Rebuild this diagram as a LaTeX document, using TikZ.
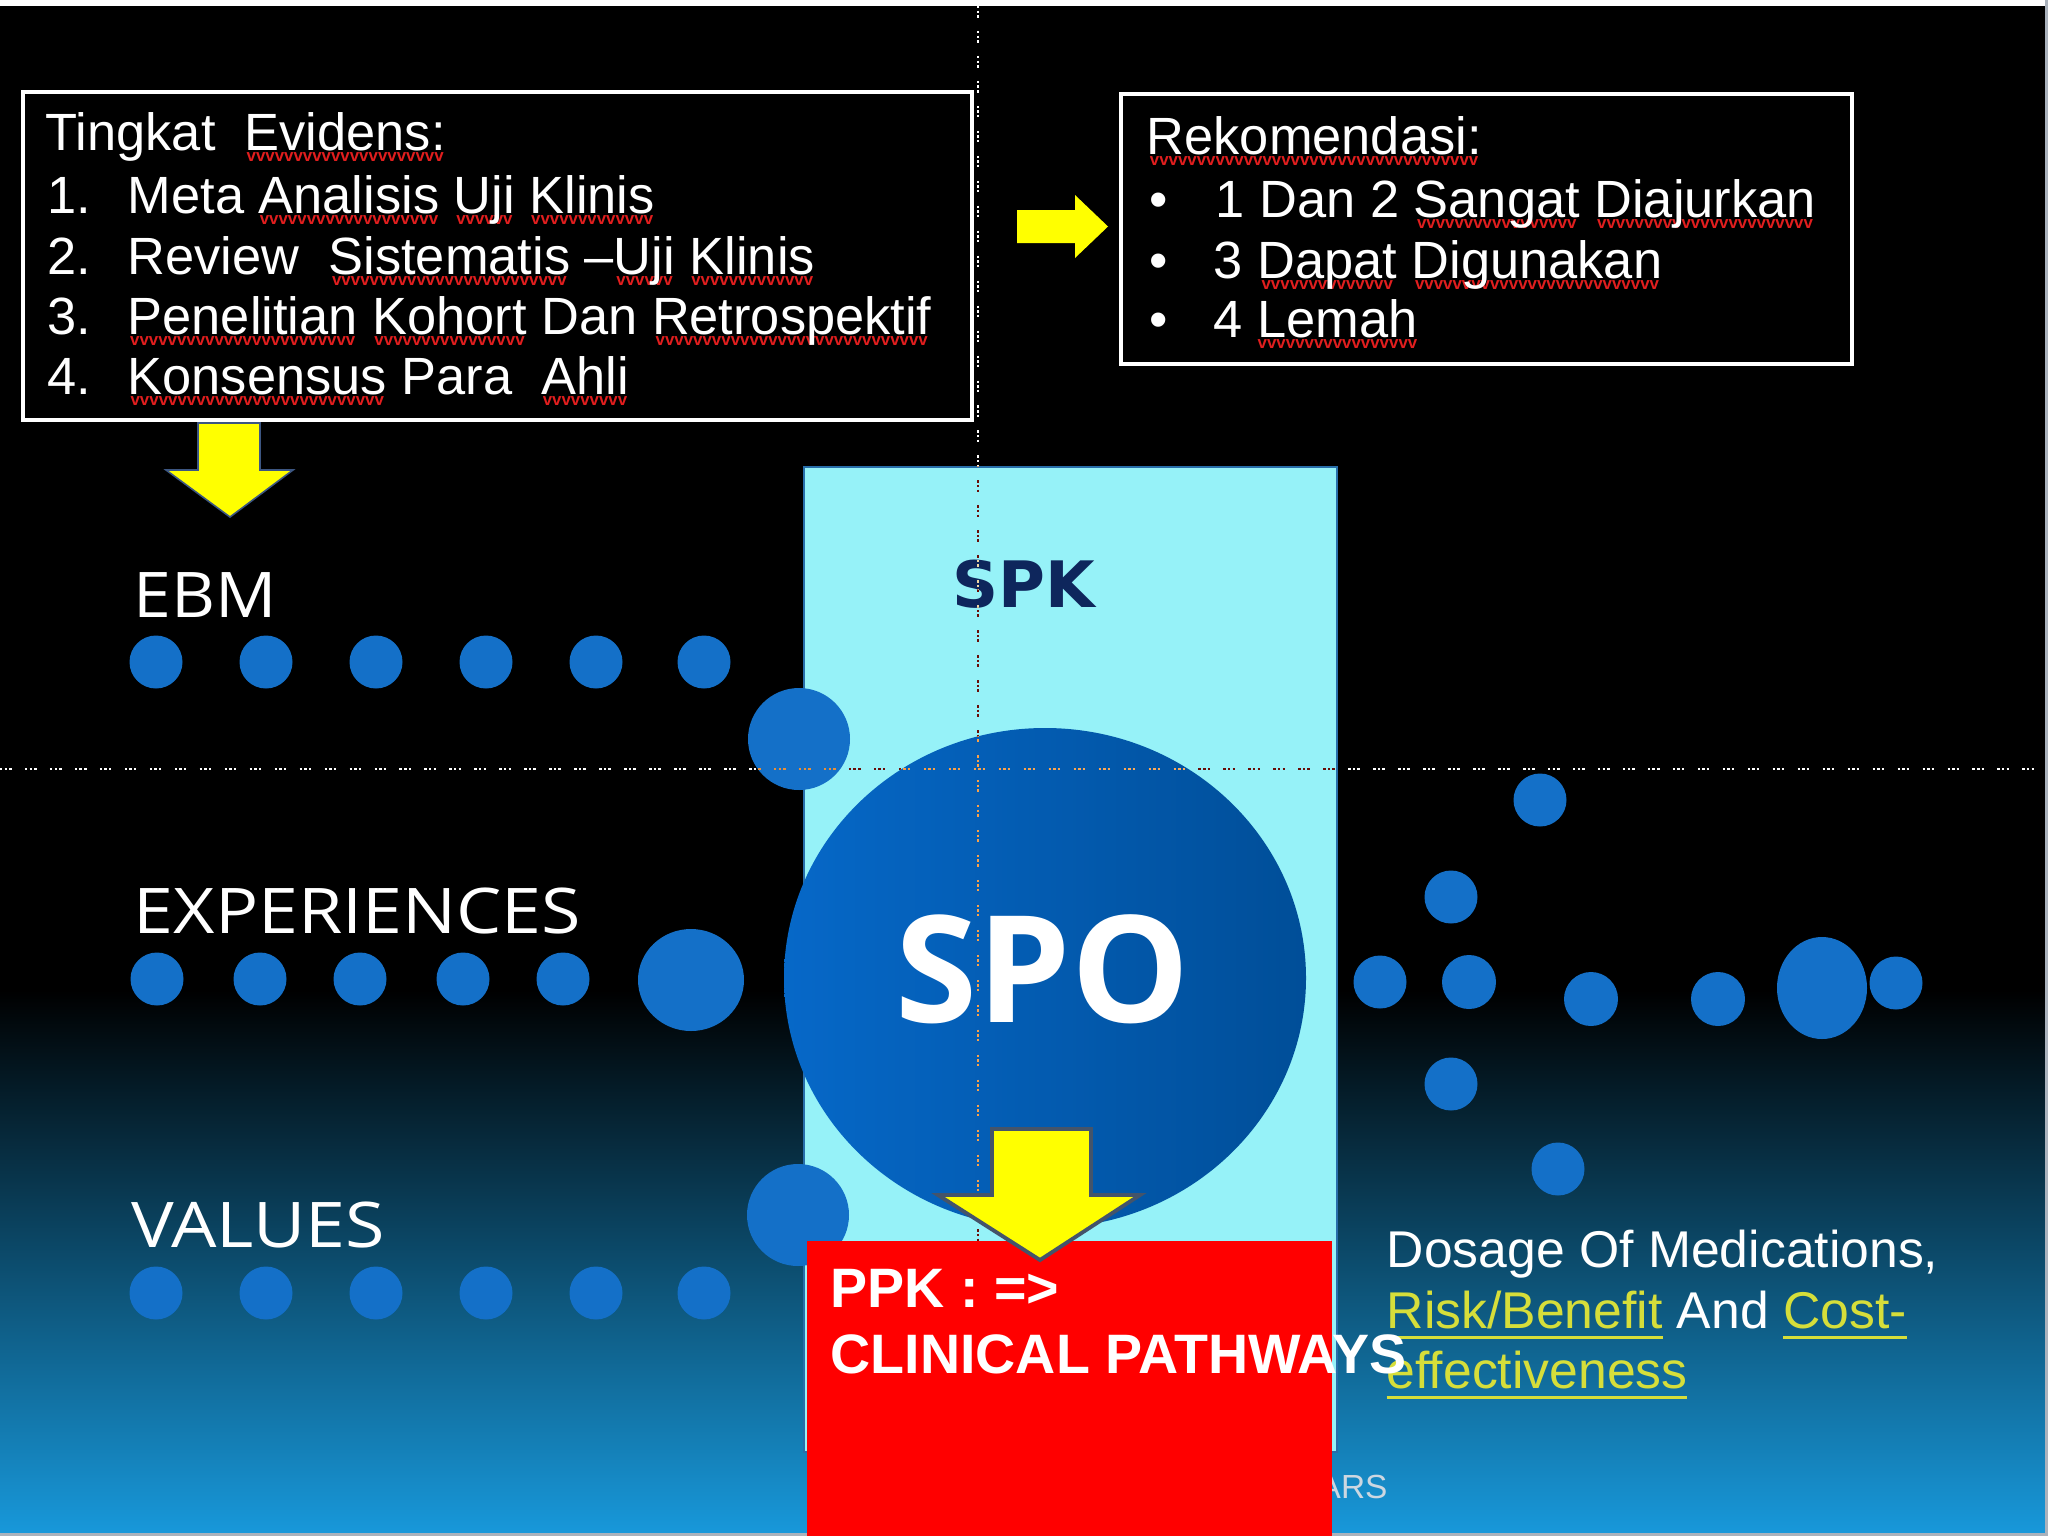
\documentclass[tikz,border=0pt]{standalone}
\usepackage{fontspec}
\setmainfont{Liberation Sans}
\newfontfamily\osans{Open Sans}
\newfontfamily\dvs{DejaVu Sans}
\definecolor{bgblue}{RGB}{24,152,218}
\definecolor{edgegray}{RGB}{170,178,188}
\definecolor{dotblue}{RGB}{20,112,200}
\definecolor{spkcyan}{RGB}{150,242,248}
\definecolor{spkborder}{RGB}{40,110,170}
\definecolor{spknavy}{RGB}{14,38,92}
\definecolor{spolight}{RGB}{6,104,200}
\definecolor{spodark}{RGB}{0,78,152}
\definecolor{arrowyellow}{RGB}{255,255,0}
\definecolor{arrowedge}{RGB}{60,86,130}
\definecolor{arrowedgeb}{RGB}{68,84,106}
\definecolor{sqred}{RGB}{225,30,30}
\definecolor{linkyellow}{RGB}{214,222,58}
\definecolor{arsgray}{RGB}{205,215,225}
\newsavebox\sqbox
\newcommand\sq[1]{\sbox\sqbox{#1}\rlap{\lower3.4pt\hbox to \wd\sqbox{\color{sqred}\cleaders\hbox{\fontsize{4.8}{5}\selectfont\bfseries v}\hfill}}\usebox\sqbox}
\newcommand\yl[1]{{\color{linkyellow}\sbox\sqbox{#1}\rlap{\lower3.05pt\hbox{\rule{\wd\sqbox}{0.85pt}}}\usebox\sqbox}}
\tikzset{
  bluedot/.style={fill=dotblue,draw=none},
  boxtxt/.style={anchor=base west,text=white,inner sep=0pt,font=\fontsize{14.9}{17}\selectfont},
  labeltxt/.style={anchor=base west,text=white,inner sep=0pt,font=\osans\fontsize{17.9}{20}\selectfont},
  ppktxt/.style={anchor=base west,text=white,inner sep=0pt,font=\bfseries\fontsize{15.8}{18}\selectfont},
  dosetxt/.style={anchor=base west,text=white,inner sep=0pt,font=\fontsize{14.7}{17}\selectfont},
  guide/.style={white,line width=0.8pt,dash pattern=on 0.7pt off 0.6pt on 0.7pt off 0.6pt on 0.7pt off 3.8pt},
  framebox/.style={draw=white,line width=1.15pt},
  yarrow/.style={fill=arrowyellow}
}
\begin{document}
\begin{tikzpicture}[x=0.01cm,y=-0.01cm]
\useasboundingbox (0,0) rectangle (2048,1536);
% background
\fill[black] (0,0) rectangle (2048,1536);
\shade[top color=black,bottom color=bgblue] (0,990) rectangle (2045,1533);
\fill[white] (0,0) rectangle (2048,6);
\fill[edgegray] (2045,0) rectangle (2048,1536);
\fill[edgegray] (0,1533) rectangle (2048,1536);

% text frames
\draw[framebox] (23,92) rectangle (972,420);
\draw[framebox] (1121,94) rectangle (1852,364);

% left box text
\node[boxtxt] (t0) at (45,150) {Tingkat\ \ \sq{Evidens:}};
\node[boxtxt] (n1) at (47,213) {1.};
\node[boxtxt] (t1) at (127,213) {Meta \sq{Analisis} \sq{Uji} \sq{Klinis}};
\node[boxtxt] (n2) at (47,274) {2.};
\node[boxtxt] (t2) at (127,274) {Review\ \ \sq{Sistematis} –\sq{Uji} \sq{Klinis}};
\node[boxtxt] (n3) at (47,334) {3.};
\node[boxtxt] (t3) at (127,334) {\sq{Penelitian} \sq{Kohort} Dan \sq{Retrospektif}};
\node[boxtxt] (n4) at (47,394) {4.};
\node[boxtxt] (t4) at (127,394) {\sq{Konsensus} Para\ \ \sq{Ahli}};

% right box text
\node[boxtxt] (r0) at (1146,154) {\sq{Rekomendasi:}};
\node[boxtxt] (b1) at (1149,217) {•};
\node[boxtxt] (r1) at (1215,217) {1 Dan 2 \sq{Sangat} \sq{Diajurkan}};
\node[boxtxt] (b2) at (1149,278) {•};
\node[boxtxt] (r2) at (1213,278) {3 \sq{Dapat} \sq{Digunakan}};
\node[boxtxt] (b3) at (1149,337) {•};
\node[boxtxt] (r3) at (1213,337) {4 \sq{Lemah}};

% yellow arrows (top)
\filldraw[yarrow,draw=arrowedge,line width=0.45pt]
  (198,423) -- (260,423) -- (260,470) -- (293,470) -- (230,517) -- (166,470) -- (198,470) -- cycle;
\fill[yarrow] (1017,210) -- (1075,210) -- (1075,195) -- (1108,226.5) -- (1075,258) -- (1075,243) -- (1017,243) -- cycle;

% SPK box
\filldraw[fill=spkcyan,draw=spkborder,line width=0.45pt] (804,467) rectangle (1337,1452);

% dot rows
\foreach \x in {156,266,376,486,596,704} \fill[bluedot] (\x,662) circle (26.5);
\foreach \x in {157,260,360,463,563} \fill[bluedot] (\x,979) circle (26.5);
\foreach \x in {156,266,376,486,596,704} \fill[bluedot] (\x,1293) circle (26.5);
\fill[bluedot] (799,739) circle (51);
\fill[bluedot] (691,980) ellipse (53 and 51);
\fill[bluedot] (798,1215) circle (51);
% right cluster
\fill[bluedot] (1540,800) circle (26.5);
\fill[bluedot] (1451,897) circle (26.5);
\fill[bluedot] (1380,982) circle (26.5);
\fill[bluedot] (1469,982) circle (27);
\fill[bluedot] (1591,999) circle (27);
\fill[bluedot] (1718,999) circle (27);
\fill[bluedot] (1822,988) ellipse (45 and 51);
\fill[bluedot] (1896,983) circle (26.5);
\fill[bluedot] (1451,1084) circle (26.5);
\fill[bluedot] (1558,1169) circle (26.5);

% SPO circle
\shade[left color=spolight,right color=spodark] (1045,978) ellipse (261 and 250);

% labels
\node[labeltxt] (ebm) at (133,617) {\scalebox{1.08}[1]{EBM}};
\node[labeltxt] (exp) at (133,933) {\scalebox{1.14}[1]{EXPERIENCES}};
\node[labeltxt] (val) at (131,1247) {\scalebox{1.14}[1]{VALUES}};
\node[anchor=base west,text=spknavy,inner sep=0pt,font=\dvs\bfseries\fontsize{18.2}{20}\selectfont] (spk) at (952,607) {SPK};
\node[anchor=base west,text=white,inner sep=0pt,font=\osans\bfseries\fontsize{42.3}{44}\selectfont] (spo) at (895,1022) {SPO};

% dosage text
\node[dosetxt] (d1) at (1386,1267) {Dosage Of Medications,};
\node[dosetxt] (d2) at (1386,1328) {\yl{Risk/Benefit} And \yl{Cost-}};
\node[dosetxt] (d3) at (1386,1388) {\yl{effectiveness}};
\node[anchor=base west,text=arsgray,inner sep=0pt,font=\fontsize{9.5}{11}\selectfont] (ars) at (1318,1498) {ARS};

% guides (inverted dotted lines)
\begin{scope}[blend mode=difference]
\draw[guide] (0,769) -- (2045,769);
\draw[guide] (978,6) -- (978,1241);
\end{scope}

% red box
\fill[red] (807,1241) rectangle (1332,1536);

% center arrow
\filldraw[yarrow,draw=arrowedgeb,line width=1.1pt]
  (992,1129) -- (1091,1129) -- (1091,1195) -- (1140,1195) -- (1040,1260) -- (938,1195) -- (992,1195) -- cycle;

\node[ppktxt] (ppk1) at (830,1307) {PPK : =>};
\node[ppktxt] (ppk2) at (830,1373) {CLINICAL PATHWAYS};
\end{tikzpicture}
\end{document}
